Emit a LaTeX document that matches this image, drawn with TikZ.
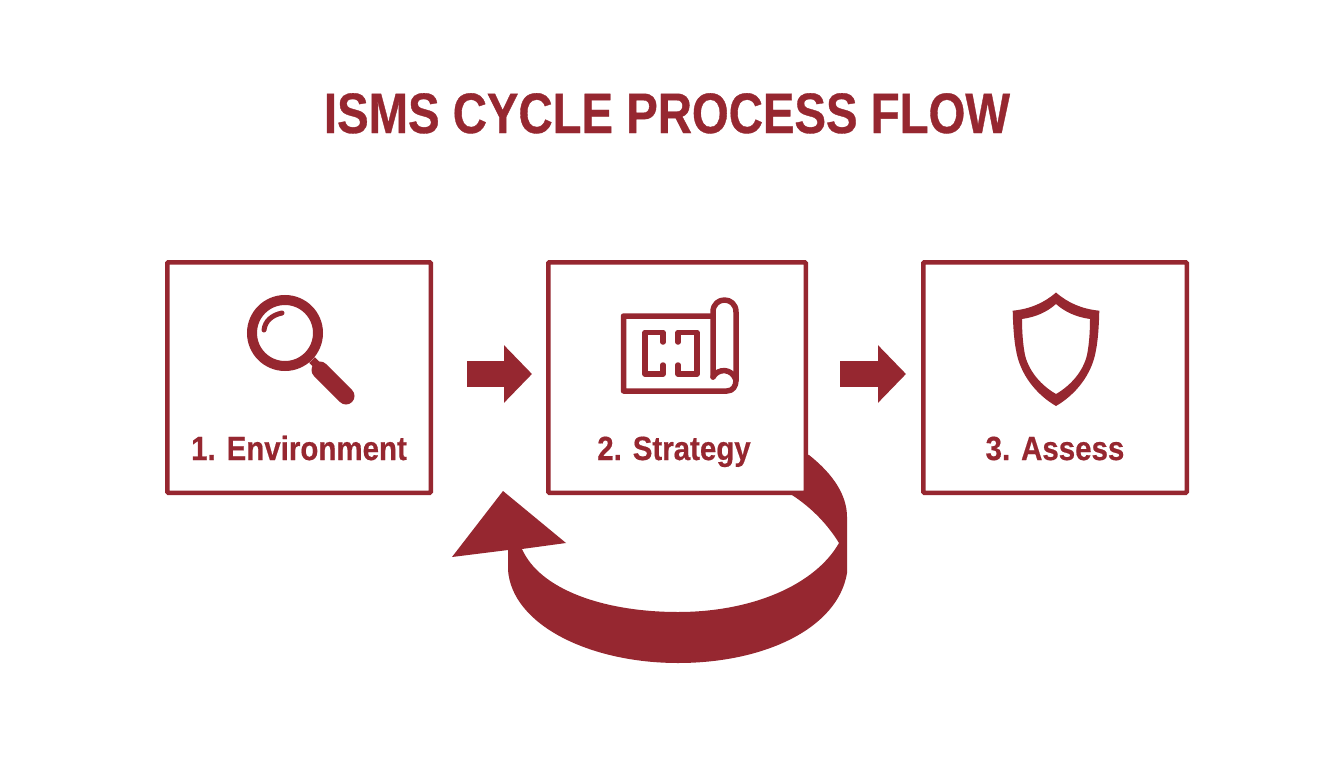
\documentclass[tikz,border=0pt]{standalone}
\usepackage{fontspec}
\usetikzlibrary{arrows.meta}
\newfontfamily\labelfont{Liberation Sans}[FakeStretch=0.88,BoldFeatures={FakeBold=0.5}]
\newfontfamily\headfont{Liberation Sans}[FakeStretch=0.83,BoldFeatures={FakeBold=0.6}]
\definecolor{ismsred}{HTML}{962730}
\tikzset{
  x=1pt,y=-1pt,
  stepbox/.style={draw=ismsred,line width=4.5pt,fill=white,rounded corners=1pt,minimum height=230.5pt,anchor=north west,inner sep=0pt},
  boxlabel/.style={text=ismsred,font=\labelfont\bfseries\fontsize{33.5}{36}\selectfont,inner sep=0pt,anchor=base},
  titletext/.style={text=ismsred,font=\headfont\bfseries\fontsize{57}{60}\selectfont,inner sep=0pt,anchor=base},
  blockarrow/.style={draw=ismsred,line width=26pt,-{Triangle[length=28pt,width=56pt]}},
  iconline/.style={draw=ismsred,line width=5.5pt,line cap=round,line join=round}
}
\begin{document}
\begin{tikzpicture}
\useasboundingbox (0,0) rectangle (1344,768);
\fill[white] (0,0) rectangle (1344,768);
\node[titletext] (title) at (667,133) {ISMS CYCLE PROCESS FLOW};
% loop arrow
\fill[ismsred] (790,452) -- (809,455)
  .. controls (833,474) and (847,495) .. (847,517)
  -- (847,573)
  .. controls (838,628) and (765,663) .. (678,663)
  .. controls (590,663) and (512,625) .. (508,570)
  -- (508,550) -- (452,557) -- (503,491) -- (566,543) -- (522,549)
  .. controls (540,590) and (605,612) .. (678,612)
  .. controls (752,612) and (815,585) .. (839,543)
  .. controls (828,525) and (812,508) .. (792,495) -- cycle;
\node[stepbox,minimum width=263.5pt] (env) at (165,260) {};
\node[stepbox,minimum width=257.5pt] (strategy) at (546,260) {};
\node[stepbox,minimum width=263.5pt] (assess) at (921,260) {};
\node[boxlabel] (envlabel) at (299,460) {1. Environment};
\node[boxlabel] (stratlabel) at (674,460) {2. Strategy};
\node[boxlabel] (assesslabel) at (1055,460) {3. Assess};
% block arrows
\coordinate (a1s) at (467,374); \coordinate (a1e) at (532,374);
\coordinate (a2s) at (840,374); \coordinate (a2e) at (906,374);
\draw[blockarrow] (a1s) -- (a1e);
\draw[blockarrow] (a2s) -- (a2e);
% magnifier
\draw[ismsred,line width=10pt] (285,333) circle (33);
\draw[iconline,line width=5pt] (264,330) .. controls (265,321) and (272,315) .. (282,313);
\draw[ismsred,line width=8pt] (312,360) -- (322,370);
\draw[ismsred,line width=17pt,line cap=round] (320,370) -- (346,396);
% blueprint
\draw[iconline] (713,316) -- (623.5,316) -- (623.5,391) -- (727,391) .. controls (733,391) and (736,386) .. (736,380);
\draw[iconline] (713,377) -- (713,312) .. controls (713,296) and (736,296) .. (736,312) -- (736,380);
\draw[iconline] (713,377) .. controls (718,368) and (732,368) .. (736,380);
\draw[iconline] (663,342) -- (663,332.5) -- (645,332.5) -- (645,374) -- (663,374) -- (663,365);
\draw[iconline] (678,342) -- (678,332.5) -- (697,332.5) -- (697,374) -- (678,374) -- (678,365);
% shield
\fill[ismsred,even odd rule]
  (1056,292.5) .. controls (1044,303) and (1030,309) .. (1012.7,310.7)
  .. controls (1013,325) and (1014,340) .. (1016,350)
  .. controls (1020,375) and (1037,395) .. (1056,406)
  .. controls (1075,395) and (1092,375) .. (1096,350)
  .. controls (1098,340) and (1099,325) .. (1099.3,310.7)
  .. controls (1082,309) and (1068,303) .. (1056,292.5) -- cycle
  (1056,304) .. controls (1047,312) and (1036,317) .. (1022,319)
  .. controls (1022,332) and (1023,345) .. (1025,355)
  .. controls (1029,372) and (1042,386) .. (1056,394)
  .. controls (1070,386) and (1083,372) .. (1087,355)
  .. controls (1089,345) and (1090,332) .. (1090,319)
  .. controls (1076,317) and (1065,312) .. (1056,304) -- cycle;
\end{tikzpicture}
\end{document}
